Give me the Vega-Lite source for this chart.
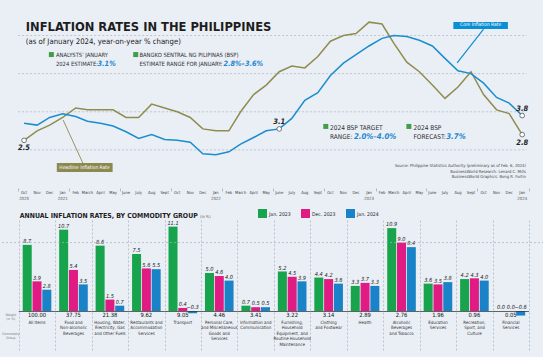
{
  "$schema": "https://vega.github.io/schema/vega-lite/v6.json",
  "background": "#eaeff6",
  "padding": {"left": 0, "right": 0, "top": 5, "bottom": 7},
  "config": {
    "view": {"stroke": null},
    "font": "Liberation Sans Narrow, DejaVu Sans Condensed, Roboto, sans-serif",
    "axisY": {"disable": true}
  },
  "resolve": {"scale": {"color": "independent"}, "legend": {"color": "independent"}},
  "spacing": 32,
  "bounds": "flush",
  "datasets": {
    "infl": [
      {"date":"2020-10-01","series":"Headline","v":2.5},{"date":"2020-11-01","series":"Headline","v":3.0},{"date":"2020-12-01","series":"Headline","v":3.3},
      {"date":"2021-01-01","series":"Headline","v":3.7},{"date":"2021-02-01","series":"Headline","v":4.2},{"date":"2021-03-01","series":"Headline","v":4.1},
      {"date":"2021-04-01","series":"Headline","v":4.1},{"date":"2021-05-01","series":"Headline","v":4.1},{"date":"2021-06-01","series":"Headline","v":3.7},
      {"date":"2021-07-01","series":"Headline","v":3.7},{"date":"2021-08-01","series":"Headline","v":4.4},{"date":"2021-09-01","series":"Headline","v":4.2},
      {"date":"2021-10-01","series":"Headline","v":4.0},{"date":"2021-11-01","series":"Headline","v":3.7},{"date":"2021-12-01","series":"Headline","v":3.1},
      {"date":"2022-01-01","series":"Headline","v":3.0},{"date":"2022-02-01","series":"Headline","v":3.0},{"date":"2022-03-01","series":"Headline","v":4.0},
      {"date":"2022-04-01","series":"Headline","v":4.9},{"date":"2022-05-01","series":"Headline","v":5.4},{"date":"2022-06-01","series":"Headline","v":6.1},
      {"date":"2022-07-01","series":"Headline","v":6.4},{"date":"2022-08-01","series":"Headline","v":6.3},{"date":"2022-09-01","series":"Headline","v":6.9},
      {"date":"2022-10-01","series":"Headline","v":7.7},{"date":"2022-11-01","series":"Headline","v":8.0},{"date":"2022-12-01","series":"Headline","v":8.1},
      {"date":"2023-01-01","series":"Headline","v":8.7},{"date":"2023-02-01","series":"Headline","v":8.6},{"date":"2023-03-01","series":"Headline","v":7.6},
      {"date":"2023-04-01","series":"Headline","v":6.6},{"date":"2023-05-01","series":"Headline","v":6.1},{"date":"2023-06-01","series":"Headline","v":5.4},
      {"date":"2023-07-01","series":"Headline","v":4.7},{"date":"2023-08-01","series":"Headline","v":5.3},{"date":"2023-09-01","series":"Headline","v":6.1},
      {"date":"2023-10-01","series":"Headline","v":4.9},{"date":"2023-11-01","series":"Headline","v":4.1},{"date":"2023-12-01","series":"Headline","v":3.9},
      {"date":"2024-01-01","series":"Headline","v":2.8},
      {"date":"2020-10-01","series":"Core","v":3.4},{"date":"2020-11-01","series":"Core","v":3.3},{"date":"2020-12-01","series":"Core","v":3.7},
      {"date":"2021-01-01","series":"Core","v":3.9},{"date":"2021-02-01","series":"Core","v":3.75},{"date":"2021-03-01","series":"Core","v":3.5},
      {"date":"2021-04-01","series":"Core","v":3.4},{"date":"2021-05-01","series":"Core","v":3.25},{"date":"2021-06-01","series":"Core","v":2.95},
      {"date":"2021-07-01","series":"Core","v":2.6},{"date":"2021-08-01","series":"Core","v":2.8},{"date":"2021-09-01","series":"Core","v":2.55},
      {"date":"2021-10-01","series":"Core","v":2.5},{"date":"2021-11-01","series":"Core","v":2.4},{"date":"2021-12-01","series":"Core","v":1.8},
      {"date":"2022-01-01","series":"Core","v":1.75},{"date":"2022-02-01","series":"Core","v":1.9},{"date":"2022-03-01","series":"Core","v":2.3},
      {"date":"2022-04-01","series":"Core","v":2.65},{"date":"2022-05-01","series":"Core","v":3.0},{"date":"2022-06-01","series":"Core","v":3.1},
      {"date":"2022-07-01","series":"Core","v":3.65},{"date":"2022-08-01","series":"Core","v":4.6},{"date":"2022-09-01","series":"Core","v":5.0},
      {"date":"2022-10-01","series":"Core","v":5.9},{"date":"2022-11-01","series":"Core","v":6.55},{"date":"2022-12-01","series":"Core","v":7.0},
      {"date":"2023-01-01","series":"Core","v":7.45},{"date":"2023-02-01","series":"Core","v":7.85},{"date":"2023-03-01","series":"Core","v":8.0},
      {"date":"2023-04-01","series":"Core","v":7.95},{"date":"2023-05-01","series":"Core","v":7.75},{"date":"2023-06-01","series":"Core","v":7.45},
      {"date":"2023-07-01","series":"Core","v":6.8},{"date":"2023-08-01","series":"Core","v":6.15},{"date":"2023-09-01","series":"Core","v":6.0},
      {"date":"2023-10-01","series":"Core","v":5.5},{"date":"2023-11-01","series":"Core","v":4.75},{"date":"2023-12-01","series":"Core","v":4.45},
      {"date":"2024-01-01","series":"Core","v":3.8}
    ],
    "months": [
      {"date":"2020-10-01","t":"Oct"},{"date":"2020-11-01","t":"Nov"},{"date":"2020-12-01","t":"Dec"},
      {"date":"2021-01-01","t":"Jan"},{"date":"2021-02-01","t":"Feb"},{"date":"2021-03-01","t":"March"},{"date":"2021-04-01","t":"April"},
      {"date":"2021-05-01","t":"May"},{"date":"2021-06-01","t":"June"},{"date":"2021-07-01","t":"July"},{"date":"2021-08-01","t":"Aug"},
      {"date":"2021-09-01","t":"Sept"},{"date":"2021-10-01","t":"Oct"},{"date":"2021-11-01","t":"Nov"},{"date":"2021-12-01","t":"Dec"},
      {"date":"2022-01-01","t":"Jan"},{"date":"2022-02-01","t":"Feb"},{"date":"2022-03-01","t":"March"},{"date":"2022-04-01","t":"April"},
      {"date":"2022-05-01","t":"May"},{"date":"2022-06-01","t":"June"},{"date":"2022-07-01","t":"July"},{"date":"2022-08-01","t":"Aug"},
      {"date":"2022-09-01","t":"Sept"},{"date":"2022-10-01","t":"Oct"},{"date":"2022-11-01","t":"Nov"},{"date":"2022-12-01","t":"Dec"},
      {"date":"2023-01-01","t":"Jan"},{"date":"2023-02-01","t":"Feb"},{"date":"2023-03-01","t":"March"},{"date":"2023-04-01","t":"April"},
      {"date":"2023-05-01","t":"May"},{"date":"2023-06-01","t":"June"},{"date":"2023-07-01","t":"July"},{"date":"2023-08-01","t":"Aug"},
      {"date":"2023-09-01","t":"Sept"},{"date":"2023-10-01","t":"Oct"},{"date":"2023-11-01","t":"Nov"},{"date":"2023-12-01","t":"Dec"},
      {"date":"2024-01-01","t":"Jan"}
    ],
    "pts": [
      {"date":"2020-10-01","v":2.5,"lab":"2.5"},
      {"date":"2022-06-01","v":3.1,"lab":"3.1"},
      {"date":"2024-01-01","v":3.8,"lab":"3.8"},
      {"date":"2024-01-01","v":2.8,"lab":"2.8"}
    ],
    "grid": [{"v":2},{"v":4},{"v":6},{"v":8}],
    "years": [
      {"date":"2020-10-01","t":"2020"},{"date":"2021-01-01","t":"2021"},{"date":"2022-01-01","t":"2022"},
      {"date":"2023-01-01","t":"2023"},{"date":"2024-01-01","t":"2024"}
    ],
    "notesSmall": [
      {"date":"2020-12-16","v":6.85,"t":"ANALYSTS' JANUARY"},
      {"date":"2020-12-16","v":6.4,"t":"2024 ESTIMATE:"},
      {"date":"2021-07-03","v":6.85,"t":"BANGKO SENTRAL NG PILIPINAS (BSP)"},
      {"date":"2021-07-03","v":6.4,"t":"ESTIMATE RANGE FOR JANUARY:"}
    ],
    "notesBig": [
      {"date":"2022-09-30","v":3.02,"t":"2024 BSP TARGET"},
      {"date":"2022-09-30","v":2.57,"t":"RANGE:"},
      {"date":"2023-04-17","v":3.02,"t":"2024 BSP"},
      {"date":"2023-04-17","v":2.57,"t":"FORECAST:"}
    ],
    "blueSmall": [
      {"date":"2021-03-25","v":6.4,"t":"3.1%"},
      {"date":"2022-01-19","v":6.4,"t":"2.8%–3.6%"}
    ],
    "blueBig": [
      {"date":"2022-11-26","v":2.55,"t":"2.0%–4.0%"},
      {"date":"2023-07-04","v":2.55,"t":"3.7%"}
    ],
    "squares": [
      {"date":"2020-12-05","v":7.0},{"date":"2021-06-24","v":7.0},
      {"date":"2022-09-20","v":3.23},{"date":"2023-04-06","v":3.23}
    ],
    "source": [
      {"date":"2024-01-10","v":1.08,"t":"Source: Philippine Statistics Authority (preliminary as of Feb. 6, 2024)"},
      {"date":"2024-01-10","v":0.81,"t":"BusinessWorld Research: Lenard C. Mills"},
      {"date":"2024-01-10","v":0.52,"t":"BusinessWorld Graphics: Bong R. Fortin"}
    ],
    "bars": [
      {"cat":"All Items","period":"Jan. 2023","v":8.7},{"cat":"All Items","period":"Dec. 2023","v":3.9},{"cat":"All Items","period":"Jan. 2024","v":2.8},
      {"cat":"Food and Non-alcoholic Beverages","period":"Jan. 2023","v":10.7},{"cat":"Food and Non-alcoholic Beverages","period":"Dec. 2023","v":5.4},{"cat":"Food and Non-alcoholic Beverages","period":"Jan. 2024","v":3.5},
      {"cat":"Housing, Water, Electricity, Gas and Other Fuels","period":"Jan. 2023","v":8.6},{"cat":"Housing, Water, Electricity, Gas and Other Fuels","period":"Dec. 2023","v":1.5},{"cat":"Housing, Water, Electricity, Gas and Other Fuels","period":"Jan. 2024","v":0.7},
      {"cat":"Restaurants and Accommodation Services","period":"Jan. 2023","v":7.5},{"cat":"Restaurants and Accommodation Services","period":"Dec. 2023","v":5.6},{"cat":"Restaurants and Accommodation Services","period":"Jan. 2024","v":5.5},
      {"cat":"Transport","period":"Jan. 2023","v":11.1},{"cat":"Transport","period":"Dec. 2023","v":0.4},{"cat":"Transport","period":"Jan. 2024","v":-0.3},
      {"cat":"Personal Care, and Miscellaneous Goods and Services","period":"Jan. 2023","v":5.0},{"cat":"Personal Care, and Miscellaneous Goods and Services","period":"Dec. 2023","v":4.6},{"cat":"Personal Care, and Miscellaneous Goods and Services","period":"Jan. 2024","v":4.0},
      {"cat":"Information and Communication","period":"Jan. 2023","v":0.7},{"cat":"Information and Communication","period":"Dec. 2023","v":0.5},{"cat":"Information and Communication","period":"Jan. 2024","v":0.5},
      {"cat":"Furnishing, Household Equipment, and Routine Household Maintenance","period":"Jan. 2023","v":5.2},{"cat":"Furnishing, Household Equipment, and Routine Household Maintenance","period":"Dec. 2023","v":4.5},{"cat":"Furnishing, Household Equipment, and Routine Household Maintenance","period":"Jan. 2024","v":3.9},
      {"cat":"Clothing and Footwear","period":"Jan. 2023","v":4.4},{"cat":"Clothing and Footwear","period":"Dec. 2023","v":4.2},{"cat":"Clothing and Footwear","period":"Jan. 2024","v":3.6},
      {"cat":"Health","period":"Jan. 2023","v":3.3},{"cat":"Health","period":"Dec. 2023","v":3.7},{"cat":"Health","period":"Jan. 2024","v":3.3},
      {"cat":"Alcoholic Beverages and Tobacco","period":"Jan. 2023","v":10.9},{"cat":"Alcoholic Beverages and Tobacco","period":"Dec. 2023","v":9.0},{"cat":"Alcoholic Beverages and Tobacco","period":"Jan. 2024","v":8.4},
      {"cat":"Education Services","period":"Jan. 2023","v":3.6},{"cat":"Education Services","period":"Dec. 2023","v":3.5},{"cat":"Education Services","period":"Jan. 2024","v":3.8},
      {"cat":"Recreation, Sport, and Culture","period":"Jan. 2023","v":4.2},{"cat":"Recreation, Sport, and Culture","period":"Dec. 2023","v":4.3},{"cat":"Recreation, Sport, and Culture","period":"Jan. 2024","v":4.0},
      {"cat":"Financial Services","period":"Jan. 2023","v":0.0},{"cat":"Financial Services","period":"Dec. 2023","v":0.0},{"cat":"Financial Services","period":"Jan. 2024","v":-0.6}
    ],
    "cats": [
      {"cat":"All Items","label":"All Items","w":"100.00"},
      {"cat":"Food and Non-alcoholic Beverages","label":"Food and\nNon-alcoholic\nBeverages","w":"37.75"},
      {"cat":"Housing, Water, Electricity, Gas and Other Fuels","label":"Housing, Water,\nElectricity, Gas\nand Other Fuels","w":"21.38"},
      {"cat":"Restaurants and Accommodation Services","label":"Restaurants and\nAccommodation\nServices","w":"9.62"},
      {"cat":"Transport","label":"Transport","w":"9.05"},
      {"cat":"Personal Care, and Miscellaneous Goods and Services","label":"Personal Care,\nand Miscellaneous\nGoods and\nServices","w":"4.46"},
      {"cat":"Information and Communication","label":"Information and\nCommunication","w":"3.41"},
      {"cat":"Furnishing, Household Equipment, and Routine Household Maintenance","label":"Furnishing,\nHousehold\nEquipment, and\nRoutine Household\nMaintenance","w":"3.22"},
      {"cat":"Clothing and Footwear","label":"Clothing\nand Footwear","w":"3.14"},
      {"cat":"Health","label":"Health","w":"2.89"},
      {"cat":"Alcoholic Beverages and Tobacco","label":"Alcoholic\nBeverages\nand Tobacco","w":"2.76"},
      {"cat":"Education Services","label":"Education\nServices","w":"1.96"},
      {"cat":"Recreation, Sport, and Culture","label":"Recreation,\nSport, and\nCulture","w":"0.96"},
      {"cat":"Financial Services","label":"Financial\nServices","w":"0.05"}
    ]
  },
  "vconcat": [
    {
      "width": 543,
      "height": 183,
      "layer": [
        {
          "data": {"name": "grid"},
          "mark": {"type": "rule", "strokeDash": [2, 2], "color": "#aab3be", "strokeWidth": 0.7},
          "encoding": {
            "y": {"field": "v", "type": "quantitative"},
            "x": {"datum": {"year": 2020, "month": 9, "date": 17}, "type": "temporal"},
            "x2": {"datum": {"year": 2024, "month": 1, "date": 12}}
          }
        },
        {
          "data": {"name": "infl"},
          "mark": {"type": "line", "strokeWidth": 1.5},
          "encoding": {
            "x": {
              "field": "date", "type": "temporal",
              "scale": {"domain": [{"year": 2020, "month": 8, "date": 7}, {"year": 2024, "month": 2, "date": 22}]},
              "axis": {
                "values": [
                  {"year":2020,"month":10,"date":1},{"year":2020,"month":11,"date":1},{"year":2020,"month":12,"date":1},
                  {"year":2021,"month":1,"date":1},{"year":2021,"month":2,"date":1},{"year":2021,"month":3,"date":1},{"year":2021,"month":4,"date":1},
                  {"year":2021,"month":5,"date":1},{"year":2021,"month":6,"date":1},{"year":2021,"month":7,"date":1},{"year":2021,"month":8,"date":1},
                  {"year":2021,"month":9,"date":1},{"year":2021,"month":10,"date":1},{"year":2021,"month":11,"date":1},{"year":2021,"month":12,"date":1},
                  {"year":2022,"month":1,"date":1},{"year":2022,"month":2,"date":1},{"year":2022,"month":3,"date":1},{"year":2022,"month":4,"date":1},
                  {"year":2022,"month":5,"date":1},{"year":2022,"month":6,"date":1},{"year":2022,"month":7,"date":1},{"year":2022,"month":8,"date":1},
                  {"year":2022,"month":9,"date":1},{"year":2022,"month":10,"date":1},{"year":2022,"month":11,"date":1},{"year":2022,"month":12,"date":1},
                  {"year":2023,"month":1,"date":1},{"year":2023,"month":2,"date":1},{"year":2023,"month":3,"date":1},{"year":2023,"month":4,"date":1},
                  {"year":2023,"month":5,"date":1},{"year":2023,"month":6,"date":1},{"year":2023,"month":7,"date":1},{"year":2023,"month":8,"date":1},
                  {"year":2023,"month":9,"date":1},{"year":2023,"month":10,"date":1},{"year":2023,"month":11,"date":1},{"year":2023,"month":12,"date":1},
                  {"year":2024,"month":1,"date":1},{"year":2024,"month":2,"date":1}
                ],
                "title": null, "grid": false, "domain": false, "labels": false,
                "tickSize": 3, "tickColor": "#8b939c", "tickWidth": 0.6,
                "tickOffset": -6.4
              }
            },
            "y": {"field": "v", "type": "quantitative", "scale": {"domain": [0, 9.6], "nice": false, "zero": false}},
            "color": {"field": "series", "type": "nominal", "scale": {"domain": ["Headline", "Core"], "range": ["#8f8c4f", "#1b8dcd"]}, "legend": null}
          }
        },
        {
          "data": {"values": [{}]},
          "mark": {"type": "rule", "color": "#8c8950", "strokeWidth": 0.9},
          "encoding": {
            "x": {"datum": {"year": 2021, "month": 2, "date": 18}, "type": "temporal"},
            "y": {"datum": 1.31},
            "x2": {"datum": {"year": 2021, "month": 1, "date": 2}},
            "y2": {"datum": 3.57}
          }
        },
        {
          "data": {"values": [{}]},
          "mark": {"type": "rule", "color": "#0b8fd4", "strokeWidth": 1.2},
          "encoding": {
            "x": {"datum": {"year": 2023, "month": 10, "date": 1}, "type": "temporal"},
            "y": {"datum": 8.34},
            "x2": {"datum": {"year": 2023, "month": 7, "date": 30}},
            "y2": {"datum": 6.56}
          }
        },
        {
          "data": {"values": [{}]},
          "mark": {"type": "rect", "color": "#8c8950"},
          "encoding": {
            "x": {"datum": {"year": 2020, "month": 12, "date": 18}, "type": "temporal"},
            "x2": {"datum": {"year": 2021, "month": 4, "date": 30}},
            "y": {"datum": 1.31},
            "y2": {"datum": 0.84}
          }
        },
        {
          "data": {"values": [{}]},
          "mark": {"type": "text", "color": "white", "fontSize": 4.9, "align": "center", "baseline": "middle"},
          "encoding": {
            "x": {"datum": {"year": 2021, "month": 2, "date": 22}, "type": "temporal"},
            "y": {"datum": 1.075},
            "text": {"value": "Headline Inflation Rate"}
          }
        },
        {
          "data": {"values": [{}]},
          "mark": {"type": "rect", "color": "#0b8fd4"},
          "encoding": {
            "x": {"datum": {"year": 2023, "month": 7, "date": 21}, "type": "temporal"},
            "x2": {"datum": {"year": 2023, "month": 11, "date": 28}},
            "y": {"datum": 8.71},
            "y2": {"datum": 8.34}
          }
        },
        {
          "data": {"values": [{}]},
          "mark": {"type": "text", "color": "white", "fontSize": 4.9, "align": "center", "baseline": "middle"},
          "encoding": {
            "x": {"datum": {"year": 2023, "month": 9, "date": 24}, "type": "temporal"},
            "y": {"datum": 8.525},
            "text": {"value": "Core Inflation Rate"}
          }
        },
        {
          "data": {"name": "pts"},
          "mark": {"type": "point", "shape": "circle", "filled": true, "fill": "white", "stroke": "#555555", "strokeWidth": 0.8, "size": 22, "opacity": 1},
          "encoding": {
            "x": {"field": "date", "type": "temporal"},
            "y": {"field": "v", "type": "quantitative"}
          }
        },
        {
          "data": {"name": "pts"},
          "transform": [{"filter": "datum.lab == '3.1' || datum.lab == '3.8'"}],
          "mark": {"type": "text", "dy": -7, "fontSize": 7.5, "fontStyle": "italic", "fontWeight": "bold", "color": "#222222"},
          "encoding": {
            "x": {"field": "date", "type": "temporal"},
            "y": {"field": "v", "type": "quantitative"},
            "text": {"field": "lab"}
          }
        },
        {
          "data": {"name": "pts"},
          "transform": [{"filter": "datum.lab == '2.5' || datum.lab == '2.8'"}],
          "mark": {"type": "text", "dy": 8, "fontSize": 7.5, "fontStyle": "italic", "fontWeight": "bold", "color": "#222222"},
          "encoding": {
            "x": {"field": "date", "type": "temporal"},
            "y": {"field": "v", "type": "quantitative"},
            "text": {"field": "lab"}
          }
        },
        {
          "data": {"values": [{}]},
          "mark": {"type": "text", "align": "left", "baseline": "alphabetic", "fontSize": 12.8, "fontWeight": "bold", "color": "#1d1d1d"},
          "encoding": {
            "x": {"datum": {"year": 2020, "month": 10, "date": 5}, "type": "temporal"},
            "y": {"datum": 8.24},
            "text": {"value": "INFLATION RATES IN THE PHILIPPINES"}
          }
        },
        {
          "data": {"values": [{}]},
          "mark": {"type": "text", "align": "left", "baseline": "alphabetic", "fontSize": 7.7, "color": "#222222"},
          "encoding": {
            "x": {"datum": {"year": 2020, "month": 10, "date": 5}, "type": "temporal"},
            "y": {"datum": 7.55},
            "text": {"value": "(as of January 2024, year-on-year % change)"}
          }
        },
        {
          "data": {"name": "notesSmall"},
          "mark": {"type": "text", "align": "left", "baseline": "alphabetic", "fontSize": 5.8, "color": "#2e2e2e"},
          "encoding": {
            "x": {"field": "date", "type": "temporal"},
            "y": {"field": "v", "type": "quantitative"},
            "text": {"field": "t"}
          }
        },
        {
          "data": {"name": "notesBig"},
          "mark": {"type": "text", "align": "left", "baseline": "alphabetic", "fontSize": 6.5, "color": "#2e2e2e"},
          "encoding": {
            "x": {"field": "date", "type": "temporal"},
            "y": {"field": "v", "type": "quantitative"},
            "text": {"field": "t"}
          }
        },
        {
          "data": {"name": "blueSmall"},
          "mark": {"type": "text", "align": "left", "baseline": "alphabetic", "fontSize": 7.3, "fontStyle": "italic", "fontWeight": "bold", "color": "#1f87cf"},
          "encoding": {
            "x": {"field": "date", "type": "temporal"},
            "y": {"field": "v", "type": "quantitative"},
            "text": {"field": "t"}
          }
        },
        {
          "data": {"name": "blueBig"},
          "mark": {"type": "text", "align": "left", "baseline": "alphabetic", "fontSize": 7.8, "fontStyle": "italic", "fontWeight": "bold", "color": "#1f87cf"},
          "encoding": {
            "x": {"field": "date", "type": "temporal"},
            "y": {"field": "v", "type": "quantitative"},
            "text": {"field": "t"}
          }
        },
        {
          "data": {"name": "squares"},
          "mark": {"type": "square", "size": 25, "color": "#3f9e47", "filled": true, "opacity": 1},
          "encoding": {
            "x": {"field": "date", "type": "temporal"},
            "y": {"field": "v", "type": "quantitative"}
          }
        },
        {
          "data": {"name": "source"},
          "mark": {"type": "text", "align": "right", "baseline": "alphabetic", "fontSize": 4.2, "color": "#444444"},
          "encoding": {
            "x": {"field": "date", "type": "temporal"},
            "y": {"field": "v", "type": "quantitative"},
            "text": {"field": "t"}
          }
        },
        {
          "data": {"name": "months"},
          "mark": {"type": "text", "align": "center", "baseline": "middle", "fontSize": 4.1, "color": "#3c3c3c"},
          "encoding": {
            "x": {"field": "date", "type": "temporal"},
            "y": {"datum": -0.28},
            "text": {"field": "t"}
          }
        },
        {
          "data": {"name": "years"},
          "mark": {"type": "text", "align": "center", "baseline": "middle", "fontSize": 4.3, "color": "#555555"},
          "encoding": {
            "x": {"field": "date", "type": "temporal"},
            "y": {"datum": -0.6},
            "text": {"field": "t"}
          }
        }
      ]
    },
    {
      "width": 543,
      "height": 130,
      "layer": [
        {
          "data": {"name": "bars"},
          "mark": {"type": "bar"},
          "encoding": {
            "x": {
              "field": "cat", "type": "nominal",
              "scale": {
                "domain": ["All Items","Food and Non-alcoholic Beverages","Housing, Water, Electricity, Gas and Other Fuels","Restaurants and Accommodation Services","Transport","Personal Care, and Miscellaneous Goods and Services","Information and Communication","Furnishing, Household Equipment, and Routine Household Maintenance","Clothing and Footwear","Health","Alcoholic Beverages and Tobacco","Education Services","Recreation, Sport, and Culture","Financial Services"],
                "paddingInner": 0, "paddingOuter": 0.4486, "align": 0.544
              },
              "axis": {"title": null, "labels": false, "ticks": false, "domain": false, "grid": true, "tickBand": "extent", "gridDash": [2, 2], "gridColor": "#a7b0bb", "gridWidth": 0.7}
            },
            "xOffset": {"field": "period", "type": "nominal", "scale": {"domain": ["Jan. 2023", "Dec. 2023", "Jan. 2024"], "paddingInner": 0.08, "paddingOuter": 0.4, "align": 0.5}},
            "y": {"field": "v", "type": "quantitative", "scale": {"domain": [-5.13, 11.97], "nice": false, "zero": false}},
            "color": {
              "field": "period", "type": "nominal",
              "scale": {"domain": ["Jan. 2023", "Dec. 2023", "Jan. 2024"], "range": ["#18a44c", "#e01b84", "#1a82c6"]},
              "legend": {"orient": "none", "legendX": 257, "legendY": -11, "direction": "horizontal", "title": null, "symbolType": "square", "symbolSize": 81, "symbolStrokeWidth": 0, "labelFontSize": 5.1, "labelOffset": 2, "columnPadding": 10, "padding": 0, "labelColor": "#222222"}
            }
          }
        },
        {
          "data": {"name": "bars"},
          "transform": [{"filter": "datum.v >= 0"}],
          "mark": {"type": "text", "baseline": "alphabetic", "dy": -1.8, "fontSize": 5.6, "fontStyle": "italic", "color": "#222222"},
          "encoding": {
            "x": {"field": "cat", "type": "nominal"},
            "xOffset": {"field": "period", "type": "nominal"},
            "y": {"field": "v", "type": "quantitative"},
            "text": {"field": "v", "type": "quantitative", "format": ".1f"}
          }
        },
        {
          "data": {"name": "bars"},
          "transform": [{"filter": "datum.v < 0"}],
          "mark": {"type": "text", "baseline": "alphabetic", "dy": -1.8, "fontSize": 5.6, "fontStyle": "italic", "color": "#222222"},
          "encoding": {
            "x": {"field": "cat", "type": "nominal"},
            "xOffset": {"field": "period", "type": "nominal"},
            "y": {"datum": 0},
            "text": {"field": "v", "type": "quantitative", "format": ".1f"}
          }
        },
        {
          "data": {"name": "cats"},
          "mark": {"type": "bar", "color": "#333333"},
          "encoding": {
            "x": {"field": "cat", "type": "nominal"},
            "y": {"datum": 0},
            "y2": {"datum": -0.1}
          }
        },
        {
          "data": {"name": "cats"},
          "mark": {"type": "text", "baseline": "middle", "fontSize": 5.8, "color": "#111111"},
          "encoding": {
            "x": {"field": "cat", "type": "nominal"},
            "y": {"datum": -0.55},
            "text": {"field": "w"}
          }
        },
        {
          "data": {"name": "cats"},
          "mark": {"type": "text", "baseline": "top", "fontSize": 4.4, "lineHeight": 5.5, "lineBreak": "\n", "color": "#333333"},
          "encoding": {
            "x": {"field": "cat", "type": "nominal"},
            "y": {"datum": -1.28},
            "text": {"field": "label"}
          }
        },
        {
          "data": {"values": [{}]},
          "mark": {"type": "text", "align": "left", "baseline": "alphabetic", "fontSize": 6.9, "fontWeight": "bold", "color": "#1d1d1d", "dx": 1},
          "encoding": {
            "x": {"datum": "All Items", "bandPosition": 0},
            "y": {"datum": 12.24},
            "text": {"value": "ANNUAL INFLATION RATES, BY COMMODITY GROUP"}
          }
        },
        {
          "data": {"values": [{}]},
          "mark": {"type": "text", "align": "left", "baseline": "alphabetic", "fontSize": 4, "color": "#555555", "dx": -1},
          "encoding": {
            "x": {"datum": "Personal Care, and Miscellaneous Goods and Services", "bandPosition": 0},
            "y": {"datum": 12.24},
            "text": {"value": "(in %)"}
          }
        },
        {
          "data": {"values": [{}]},
          "mark": {"type": "text", "align": "center", "baseline": "middle", "fontSize": 3.4, "lineHeight": 4, "lineBreak": "\n", "color": "#777777", "dx": -8},
          "encoding": {
            "x": {"datum": "All Items", "bandPosition": 0},
            "y": {"datum": -0.55},
            "text": {"value": "Weight\n(in %)"}
          }
        },
        {
          "data": {"values": [{}]},
          "mark": {"type": "text", "align": "center", "baseline": "middle", "fontSize": 3.4, "lineHeight": 4, "lineBreak": "\n", "color": "#777777", "dx": -8},
          "encoding": {
            "x": {"datum": "All Items", "bandPosition": 0},
            "y": {"datum": -2.96},
            "text": {"value": "Commodity\nGroup"}
          }
        },
        {
          "data": {"values": [{}]},
          "mark": {"type": "rule", "strokeDash": [2, 2], "color": "#a7b0bb", "strokeWidth": 0.7},
          "encoding": {
            "y": {"datum": 9}
          }
        }
      ]
    }
  ]
}
